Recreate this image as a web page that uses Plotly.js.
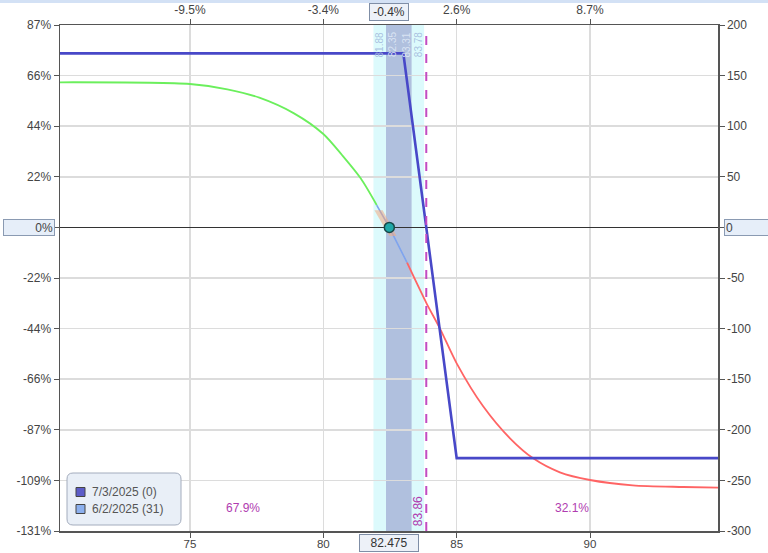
<!DOCTYPE html>
<html>
<head>
<meta charset="utf-8">
<script src="https://cdn.plot.ly/plotly-3.0.1.min.js"></script>
<style>html,body{margin:0;padding:0;background:#fff;}#chart{width:768px;height:553px;}</style>
</head>
<body>
<div id="chart"></div>
<script>
// ---- data ----
var seriesNames = ['7/3/2025 (0)', '6/2/2025 (31)'];
var expPrice = [70.125, 83, 85, 94.8];
var expPL = [172, 172, -228, -228];
var t31GreenPrice = [70.125, 75, 76.4, 77.6, 78.9, 80, 80.7, 81.4, 82.0];
var t31GreenPL = [143.4, 141.7, 136.5, 128.2, 112.7, 92.3, 71.5, 48.5, 22.1];
var t31MidPrice = [82.0, 82.475, 83.14];
var t31MidPL = [22.1, 0, -34.9];
var t31RedPrice = [83.14, 83.87, 84.37, 85, 86, 87, 87.87, 88.87, 90, 91.6, 93.5, 94.8];
var t31RedPL = [-34.9, -75, -99.7, -134.3, -177, -208.4, -228.2, -242, -249.6, -254.9, -256.5, -257.2];
var currentPrice = 82.475;
var currentPL = 0;
var breakeven = 83.86;
var outerBand = [81.88, 83.78];
var innerBand = [82.35, 83.31];
var probLabels = ['67.9%', '32.1%'];
var thetaBoxDX = [-0.56, -0.25, 0.27, 0];
var thetaBoxDY = [17, 17, -8.5, -8.5];
var xTickVals = [75, 80, 85, 90];
var xTickText = ['75', '80', '85', '90'];
var topTickText = ['-9.5%', '-3.4%', '2.6%', '8.7%'];
var currentPctLabel = '-0.4%';
var yTickVals = [-300, -250, -200, -150, -100, -50, 0, 50, 100, 150, 200];
var yLeftText = ['-131%', '-109%', '-87%', '-66%', '-44%', '-22%', '', '22%', '44%', '66%', '87%'];
var yRightText = ['-300', '-250', '-200', '-150', '-100', '-50', '', '50', '100', '150', '200'];
var xRange = [70.125, 94.8];
var yRange = [-300, 200];

// ---- layout helpers (pixel -> paper) ----
var L = 60, R = 718, T = 25, B = 531;
function px(x) { return (x - L) / (R - L); }
function py(y) { return (B - y) / (B - T); }

var FONT = 'Arial, "Liberation Sans", sans-serif';

var traces = [];
traces.push({x: t31GreenPrice, y: t31GreenPL, mode: 'lines', line: {color: '#6bef5c', width: 1.8, shape: 'spline', smoothing: 0.8}, hoverinfo: 'skip', showlegend: false});
traces.push({x: t31MidPrice, y: t31MidPL, mode: 'lines', line: {color: '#7fa4ee', width: 1.6}, hoverinfo: 'skip', showlegend: false});
traces.push({x: t31RedPrice, y: t31RedPL, mode: 'lines', line: {color: '#ff6464', width: 1.8, shape: 'spline', smoothing: 0.8}, hoverinfo: 'skip', showlegend: false});
traces.push({x: thetaBoxDX.map(function(d){return currentPrice + d;}).concat([currentPrice + thetaBoxDX[0]]),
             y: thetaBoxDY.map(function(d){return currentPL + d;}).concat([currentPL + thetaBoxDY[0]]),
             mode: 'lines', fill: 'toself', fillcolor: 'rgba(242,170,130,0.55)', line: {width: 0}, hoverinfo: 'skip', showlegend: false});
traces.push({x: expPrice, y: expPL, mode: 'lines', line: {color: '#4848c8', width: 2.6}, hoverinfo: 'skip', showlegend: false});
traces.push({x: [currentPrice], y: [currentPL], mode: 'markers', marker: {color: '#1fa8a8', size: 10, line: {color: '#174848', width: 1.5}}, hoverinfo: 'skip', showlegend: false});
traces.push({x: [null], y: [null], xaxis: 'x2', yaxis: 'y2', mode: 'lines', hoverinfo: 'skip', showlegend: false});

var shapes = [];
shapes.push({type: 'rect', xref: 'paper', yref: 'paper', x0: px(0), x1: px(768), y0: py(3), y1: py(0), fillcolor: '#d3e1f5', line: {width: 0}, layer: 'below'});
shapes.push({type: 'rect', xref: 'x', yref: 'paper', x0: outerBand[0], x1: outerBand[1], y0: 0, y1: 1, fillcolor: '#dcfafc', line: {width: 0}, layer: 'below'});
shapes.push({type: 'rect', xref: 'x', yref: 'paper', x0: innerBand[0], x1: innerBand[1], y0: 0, y1: 1, fillcolor: '#b0c0de', line: {width: 0}, layer: 'below'});
shapes.push({type: 'line', xref: 'x', yref: 'paper', x0: breakeven, x1: breakeven, y0: 0, y1: 0.995, line: {color: '#c24cc2', width: 2, dash: 'dash'}});
var lx0 = px(67), lx1 = px(181), ly0 = py(525), ly1 = py(473);
var rx = 6 / (R - L), ry = 6 / (B - T);
shapes.push({type: 'path', xref: 'paper', yref: 'paper',
  path: 'M ' + (lx0 + rx) + ' ' + ly0 + ' L ' + (lx1 - rx) + ' ' + ly0 + ' Q ' + lx1 + ' ' + ly0 + ' ' + lx1 + ' ' + (ly0 + ry) +
        ' L ' + lx1 + ' ' + (ly1 - ry) + ' Q ' + lx1 + ' ' + ly1 + ' ' + (lx1 - rx) + ' ' + ly1 +
        ' L ' + (lx0 + rx) + ' ' + ly1 + ' Q ' + lx0 + ' ' + ly1 + ' ' + lx0 + ' ' + (ly1 - ry) +
        ' L ' + lx0 + ' ' + (ly0 + ry) + ' Q ' + lx0 + ' ' + ly0 + ' ' + (lx0 + rx) + ' ' + ly0 + ' Z',
  fillcolor: '#e9eff7', line: {color: '#a3acbd', width: 1}});
var legendColors = ['#5c5cc8', '#8cb0ee'];
var legendRows = [492, 509];
for (var i = 0; i < 2; i++) {
  shapes.push({type: 'rect', xref: 'paper', yref: 'paper', x0: px(76), x1: px(85), y0: py(legendRows[i] + 4.5), y1: py(legendRows[i] - 4.5),
               fillcolor: legendColors[i], line: {color: '#444', width: 1}});
}

var annotations = [];
for (var j = 0; j < 2; j++) {
  annotations.push({xref: 'paper', yref: 'paper', x: px(90), y: py(legendRows[j]), xanchor: 'left', yanchor: 'middle', showarrow: false,
                    text: seriesNames[j], font: {family: FONT, size: 12, color: '#555'}});
}
annotations.push({xref: 'paper', yref: 'y', x: px(55), y: 0, xanchor: 'right', yanchor: 'middle', showarrow: false, text: '0%',
                  width: 48, height: 13, align: 'right', bgcolor: '#e6eef9', bordercolor: '#8a9ab2', borderwidth: 1, borderpad: 1,
                  font: {family: FONT, size: 12, color: '#444'}});
annotations.push({xref: 'paper', yref: 'y', x: px(724), y: 0, xanchor: 'left', yanchor: 'middle', showarrow: false, text: '0',
                  width: 44, height: 13, align: 'left', bgcolor: '#e6eef9', bordercolor: '#8a9ab2', borderwidth: 1, borderpad: 1,
                  font: {family: FONT, size: 12, color: '#444'}});
annotations.push({xref: 'x', yref: 'paper', x: currentPrice, y: py(12), xanchor: 'center', yanchor: 'middle', showarrow: false, text: currentPctLabel,
                  width: 36, bgcolor: '#edf1f8', bordercolor: '#7f8ea6', borderwidth: 1, borderpad: 1, font: {family: FONT, size: 12, color: '#333'}});
annotations.push({xref: 'x', yref: 'paper', x: currentPrice, y: py(543), xanchor: 'center', yanchor: 'middle', showarrow: false, text: String(currentPrice),
                  width: 56, bgcolor: '#edf1f8', bordercolor: '#7f8ea6', borderwidth: 1, borderpad: 1, font: {family: FONT, size: 12, color: '#333'}});
annotations.push({xref: 'x', yref: 'paper', x: breakeven, xshift: -8, y: py(528), xanchor: 'center', yanchor: 'bottom', showarrow: false,
                  text: breakeven.toFixed(2), textangle: -90, font: {family: FONT, size: 12, color: '#b03cb0'}});
annotations.push({xref: 'x', yref: 'paper', x: (xRange[0] + breakeven) / 2, y: py(517), showarrow: false, text: probLabels[0],
                  font: {family: FONT, size: 12, color: '#b03cb0'}});
annotations.push({xref: 'x', yref: 'paper', x: (breakeven + xRange[1]) / 2, y: py(517), showarrow: false, text: probLabels[1],
                  font: {family: FONT, size: 12, color: '#b03cb0'}});
var bandVals = [outerBand[0], innerBand[0], innerBand[1], outerBand[1]];
var bandShift = [6, 6, -6, -6];
var bandColors = ['rgba(165,188,222,0.95)', 'rgba(220,230,245,0.95)', 'rgba(220,230,245,0.95)', 'rgba(165,188,222,0.95)'];
for (var k = 0; k < 4; k++) {
  annotations.push({xref: 'x', yref: 'paper', x: bandVals[k], xshift: bandShift[k], y: py(45), xanchor: 'center', yanchor: 'middle', showarrow: false,
                    text: bandVals[k].toFixed(2), textangle: -90, font: {family: FONT, size: 10, color: bandColors[k]}});
}

var axisCommon = {showline: true, linecolor: '#555', linewidth: 1.5, ticks: 'outside', ticklen: 5, tickcolor: '#555',
                  tickfont: {family: FONT, size: 12, color: '#444'}, zeroline: false, fixedrange: true};

var layout = {
  width: 768, height: 553,
  margin: {l: L, r: 768 - R, t: T, b: 553 - B, pad: 0},
  paper_bgcolor: '#ffffff', plot_bgcolor: 'rgba(0,0,0,0)',
  showlegend: false,
  xaxis: Object.assign({}, axisCommon, {range: xRange, tickvals: xTickVals, ticktext: xTickText, showgrid: true, gridcolor: '#dcdcdc', gridwidth: 1.5,
                                        ticklabelstandoff: -3, tickfont: {family: FONT, size: 11.5, color: '#444'}}),
  xaxis2: Object.assign({}, axisCommon, {range: xRange, overlaying: 'x', side: 'top', anchor: 'y', tickvals: xTickVals, ticktext: topTickText, showgrid: false}),
  yaxis: Object.assign({}, axisCommon, {range: yRange, tickvals: yTickVals, ticktext: yLeftText, showgrid: true, gridcolor: '#dcdcdc', gridwidth: 1.5,
                                        zeroline: true, zerolinecolor: '#333', zerolinewidth: 1.5}),
  yaxis2: Object.assign({}, axisCommon, {range: yRange, overlaying: 'y', side: 'right', anchor: 'x', tickvals: yTickVals, ticktext: yRightText, showgrid: false}),
  shapes: shapes,
  annotations: annotations
};

Plotly.newPlot('chart', traces, layout, {staticPlot: true, displayModeBar: false});
</script>
</body>
</html>
